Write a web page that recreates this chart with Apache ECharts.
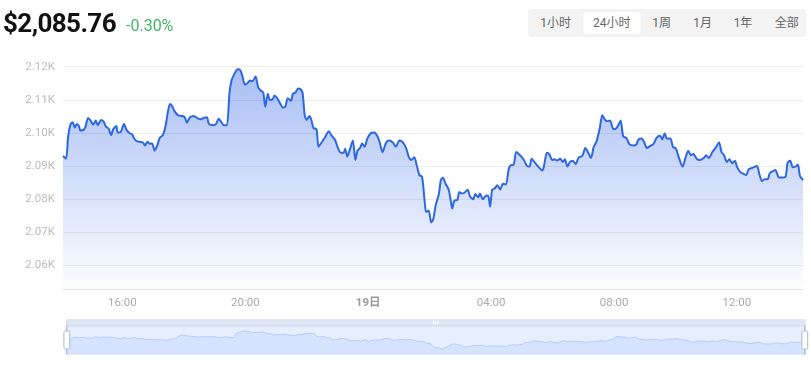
<!DOCTYPE html>
<html><head><meta charset="utf-8">
<script src="https://cdn.jsdelivr.net/npm/echarts@6/dist/echarts.min.js"></script>
<style>
html,body{margin:0;padding:0;background:#fff;width:811px;height:366px;overflow:hidden;font-family:Roboto,"Noto Sans CJK SC",sans-serif;}
#chart{position:absolute;left:0;top:0;width:811px;height:366px;}
#price{position:absolute;left:3px;top:10px;font-size:26px;line-height:26px;font-weight:700;letter-spacing:-0.6px;color:#111;z-index:2;}
#chg{position:absolute;left:126px;top:18px;font-size:16px;line-height:16px;color:#40b768;z-index:2;}
#tabs{position:absolute;left:528px;top:9px;width:278px;height:28px;background:#f3f3f3;border-radius:4px;z-index:2;}
.tab{position:absolute;top:3px;height:22px;line-height:22px;font-size:12px;color:#666;text-align:center;transform:translateX(-50%);white-space:nowrap;font-family:Roboto,"Noto Sans CJK SC",sans-serif;}
.tab.sel{background:#fff;border-radius:3px;width:57px;}
</style></head>
<body>
<div id="chart"></div>
<div id="price"></div>
<div id="chg"></div>
<div id="tabs"></div>
<script>
// ---- data ----
const priceText = '$2,085.76';
const changeText = '-0.30%';
const tabLabels = ['1小时', '24小时', '1周', '1月', '1年', '全部'];
const selectedTab = '24小时';

const times = [
'14:04','14:10','14:14','14:19','14:23','14:27','14:31','14:35','14:38','14:44','14:48','14:53','14:58','15:03','15:08','15:12','15:18','15:23','15:28','15:33','15:38','15:42','15:48','15:51','15:57',
'16:03','16:08','16:14','16:19','16:23','16:28','16:34','16:40','16:44','16:49','16:53','16:58','17:03','17:08','17:13','17:19','17:24','17:29','17:33','17:37','17:42','17:49','17:56',
'18:02','18:06','18:12','18:19','18:26','18:32','18:39','18:45','18:49','18:58','19:03','19:08','19:13','19:18','19:24','19:29','19:33','19:38','19:45','19:50','19:54','19:59',
'20:04','20:09','20:14','20:20','20:25','20:30','20:35','20:39','20:44','20:48','20:54','20:57','21:03','21:08','21:13','21:18','21:23','21:29','21:33','21:38','21:43','21:48','21:52','21:56',
'22:00','22:05','22:09','22:13','22:19','22:23','22:29','22:35','22:43','22:48','22:55','23:01','23:06','23:12','23:15','23:19','23:25','23:30','23:35','23:39','23:44','23:48','23:53','23:58',
'00:05','00:11','00:18','00:23','00:28','00:35','00:41','00:48','00:54','01:01','01:07','01:14','01:19','01:24','01:30','01:35','01:40','01:45','01:50','01:53','01:58',
'02:03','02:07','02:12','02:18','02:22','02:26','02:31','02:37','02:41','02:44','02:48','02:54','02:58','03:03','03:08','03:14','03:19','03:25','03:29','03:35','03:38','03:44','03:49','03:54','03:58',
'04:02','04:07','04:12','04:18','04:23','04:29','04:34','04:38','04:44','04:49','04:54','04:59','05:04','05:10','05:15','05:19','05:24','05:32','05:40','05:43','05:49','05:54','05:59',
'06:04','06:09','06:15','06:20','06:24','06:29','06:34','06:39','06:45','06:51','06:58','07:04','07:09','07:15','07:20','07:26','07:32','07:37','07:41','07:46','07:52','07:59',
'08:04','08:09','08:13','08:18','08:24','08:30','08:37','08:43','08:48','08:54','08:59','09:04','09:10','09:17','09:23','09:30','09:34','09:39','09:43','09:50','09:55',
'10:01','10:06','10:14','10:19','10:25','10:30','10:35','10:42','10:48','10:55','11:00','11:05','11:12','11:18','11:25','11:30','11:35','11:40','11:45','11:51','11:56',
'12:00','12:06','12:13','12:18','12:23','12:30','12:39','12:44','12:49','12:54','13:00','13:04','13:10','13:15','13:22','13:28','13:35','13:39','13:44','13:49','13:54','13:59','14:03','14:09'
];
const prices = [
2093.0,2092.2,2098.9,2102.7,2103.2,2101.6,2102.7,2102.1,2100.7,2100.9,2101.9,2104.5,2103.7,2102.5,2103.7,2102.3,2103.9,2103.5,2101.9,2101.3,2099.3,2101.1,2102.1,2100.1,2100.3,
2102.7,2100.9,2099.9,2099.6,2098.3,2097.5,2097.3,2097.1,2096.2,2097.3,2096.7,2096.8,2094.6,2096.2,2098.5,2099.3,2101.9,2106.5,2108.7,2108.1,2106.5,2105.3,2105.1,
2104.7,2103.1,2104.7,2105.1,2104.5,2104.1,2104.5,2104.7,2102.7,2102.3,2102.7,2104.3,2103.3,2102.3,2102.3,2112.0,2115.8,2117.6,2119.2,2119.0,2117.4,2114.6,
2115.0,2115.8,2115.6,2117.0,2113.8,2112.8,2112.2,2107.9,2111.8,2109.9,2110.3,2111.3,2110.3,2108.9,2107.7,2107.9,2110.5,2109.7,2111.9,2112.2,2113.4,2113.2,2111.9,2105.3,
2103.9,2105.1,2103.9,2101.5,2101.1,2095.8,2097.1,2098.5,2100.5,2099.3,2097.9,2095.4,2094.0,2094.0,2095.2,2092.8,2095.4,2097.7,2091.8,2094.6,2095.4,2096.8,2095.8,2098.2,
2099.9,2100.1,2099.0,2096.8,2094.2,2097.1,2097.7,2097.1,2095.8,2097.7,2097.3,2095.4,2092.8,2091.8,2092.6,2090.0,2087.2,2086.8,2079.7,2076.1,2076.5,
2072.9,2073.9,2078.3,2081.5,2085.8,2086.4,2084.6,2082.9,2079.7,2077.1,2079.5,2079.7,2082.1,2081.7,2081.9,2082.8,2080.7,2079.9,2081.5,2080.5,2081.7,2079.9,2080.9,2081.1,2077.7,
2082.8,2083.2,2084.2,2082.9,2084.6,2084.4,2088.8,2090.2,2090.4,2094.2,2093.6,2092.8,2091.8,2090.0,2089.8,2092.2,2091.3,2089.8,2088.6,2089.8,2094.0,2093.4,2091.8,
2092.0,2091.6,2092.2,2091.2,2092.0,2089.8,2091.2,2091.6,2090.6,2092.6,2093.0,2095.4,2094.2,2092.4,2095.6,2097.5,2101.3,2105.3,2104.3,2103.5,2103.7,2101.1,
2101.3,2102.5,2103.7,2098.9,2098.5,2096.6,2096.2,2096.4,2098.0,2098.3,2097.1,2095.4,2096.0,2096.6,2098.5,2099.1,2098.0,2099.9,2098.3,2098.3,2095.8,
2095.2,2092.8,2089.8,2092.2,2094.6,2093.2,2093.6,2092.0,2091.8,2092.4,2093.2,2092.4,2094.2,2095.4,2097.1,2094.2,2093.2,2091.2,2092.0,2090.8,2091.6,
2089.8,2088.2,2087.6,2087.2,2089.0,2089.4,2090.0,2087.4,2085.4,2086.0,2086.0,2087.8,2088.4,2088.8,2086.5,2086.5,2086.8,2091.0,2091.6,2089.6,2089.8,2090.4,2087.0,2085.76
];
const startDay = 18;
const xTickTimes = ['16:00', '20:00', '00:00', '04:00', '08:00', '12:00'];
const xTickLabels = ['16:00', '20:00', '19日', '04:00', '08:00', '12:00'];
const yMin = 2052.8, yMax = 2120;

// ---- build ----
function toTimestamps(list, firstPrev) {
  let day = startDay, prev = firstPrev;
  return list.map(s => {
    const [h, m] = s.split(':').map(Number);
    const mins = h * 60 + m;
    if (mins < prev) day++;
    prev = mins;
    return new Date(2023, 4, day, h, m).getTime();
  });
}
const firstMins = Number(times[0].split(':')[0]) * 60 + Number(times[0].split(':')[1]);
const ts = toTimestamps(times, -1);
const data = ts.map((t, i) => [t, prices[i]]);
const tickTs = toTimestamps(xTickTimes, firstMins);

document.getElementById('price').textContent = priceText;
document.getElementById('chg').textContent = changeText;
const tabCenters = [27.7, 83.7, 133.7, 174.7, 215, 258.7];
const tabsEl = document.getElementById('tabs');
tabLabels.forEach((l, i) => {
  const d = document.createElement('div');
  d.className = 'tab' + (l === selectedTab ? ' sel' : '');
  d.style.left = tabCenters[i] + 'px';
  d.textContent = l;
  tabsEl.appendChild(d);
});

const chart = echarts.init(document.getElementById('chart'), null, {renderer: 'canvas'});
chart.setOption({
  animation: false,
  grid: {left: 63, right: 8, top: 66.7, bottom: 77},
  xAxis: {
    type: 'value',
    min: 'dataMin', max: 'dataMax',
    axisLine: {show: true, lineStyle: {color: '#e6e6e6'}},
    axisTick: {show: false, customValues: tickTs},
    splitLine: {show: false},
    axisLabel: {
      customValues: tickTs,
      color: '#aaa', fontSize: 11.5, margin: 8,
      fontFamily: 'Roboto, "Noto Sans CJK SC", sans-serif',
      formatter: function (v) {
        const i = tickTs.indexOf(v);
        if (i < 0) return '';
        const lab = xTickLabels[i];
        return lab.indexOf(':') < 0 ? '{b|' + lab + '}' : lab;
      },
      rich: {b: {fontWeight: 'bold', color: '#999', fontSize: 11.5, fontFamily: 'Roboto, "Noto Sans CJK SC", sans-serif'}}
    }
  },
  yAxis: {
    type: 'value',
    min: yMin, max: yMax,
    splitNumber: 6,
    axisLine: {show: false},
    axisTick: {show: false},
    splitLine: {lineStyle: {color: '#ececec'}},
    axisLabel: {
      showMinLabel: false,
      color: '#bbb', fontSize: 11.5, margin: 8,
      fontFamily: 'Roboto, sans-serif',
      formatter: v => (v / 1000).toFixed(2) + 'K'
    }
  },
  dataZoom: [{
    type: 'slider', left: 63, right: 8, top: 319, height: 29,
    start: 0, end: 100, showDetail: false, brushSelect: true,
    backgroundColor: 'rgba(47,69,84,0)',
    borderColor: '#d2dbee',
    fillerColor: 'rgba(135,175,255,0.2)',
    dataBackground: {
      lineStyle: {color: '#d2dbee', width: 0.5},
      areaStyle: {color: '#d2dbee', opacity: 0.2}
    },
    selectedDataBackground: {
      lineStyle: {color: '#8fb0f7', width: 0.5},
      areaStyle: {color: '#8fb0f7', opacity: 0.2}
    },
    handleIcon: 'path://M-9.35,34.56V42m0-40V9.5m-2,0h4a2,2,0,0,1,2,2v21a2,2,0,0,1-2,2h-4a2,2,0,0,1-2-2v-21A2,2,0,0,1-11.35,9.5Z',
    handleSize: '100%',
    handleStyle: {color: '#fff', borderColor: '#ACB8D1'},
    moveHandleSize: 7,
    moveHandleStyle: {color: '#D2DBEE', opacity: 0.7}
  }],
  series: [{
    type: 'line',
    data: data,
    showSymbol: false,
    smooth: 0.25,
    lineStyle: {width: 2, color: '#2d67e2'},
    itemStyle: {color: '#2d67e2'},
    areaStyle: {
      color: new echarts.graphic.LinearGradient(0, 0, 0, 1, [
        {offset: 0, color: 'rgba(55,105,232,0.62)'},
        {offset: 1, color: 'rgba(55,105,232,0.02)'}
      ])
    }
  }]
});
</script>
</body></html>
